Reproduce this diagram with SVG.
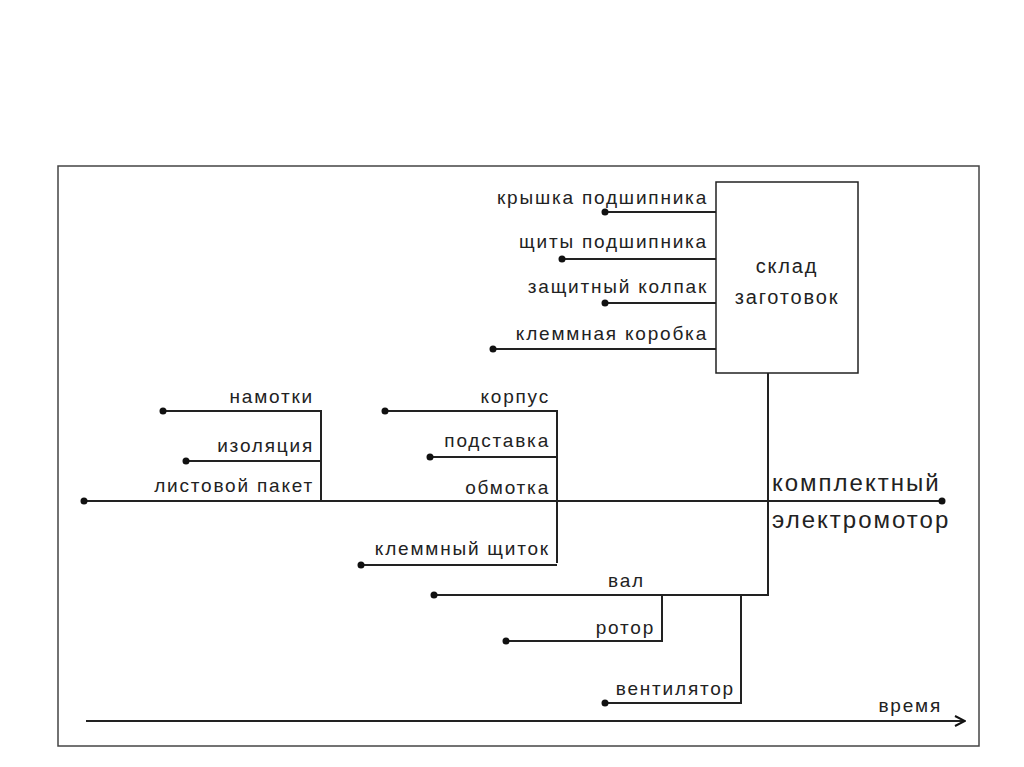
<svg xmlns="http://www.w3.org/2000/svg" width="1024" height="767" viewBox="0 0 1024 767">
<defs>
<marker id="dot" viewBox="-4 -4 8 8" markerWidth="8" markerHeight="8" markerUnits="userSpaceOnUse"><circle r="3.5" fill="#111"/></marker>
<marker id="arr" viewBox="0 0 12 12" refX="11" refY="6" markerWidth="12" markerHeight="12" markerUnits="userSpaceOnUse" orient="auto"><path d="M1,1 L11,6 L1,11" fill="none" stroke="#111" stroke-width="2"/></marker>
<style>
.l{stroke:#222;stroke-width:2;fill:none}
.t{font-family:"Liberation Sans",Arial,sans-serif;font-size:19px;letter-spacing:1.8px;fill:#222;text-anchor:end}
.b{font-family:"Liberation Sans",Arial,sans-serif;font-size:24px;letter-spacing:2px;fill:#222}
</style>
</defs>
<rect width="1024" height="767" fill="#fff"/>
<rect x="58" y="166" width="921" height="580" fill="none" stroke="#444" stroke-width="1.5"/>
<g id="sklad">
<rect x="716" y="182" width="142" height="191" fill="#fff" stroke="#222" stroke-width="1.5"/>
<text x="787" y="273" class="t" style="text-anchor:middle;font-size:20px">склад</text>
<text x="787" y="304" class="t" style="text-anchor:middle;font-size:20px">заготовок</text>
</g>
<g id="connectors">
<path class="l" marker-start="url(#dot)" d="M605,212H716"/>
<path class="l" marker-start="url(#dot)" d="M562,259H716"/>
<path class="l" marker-start="url(#dot)" d="M605,303H716"/>
<path class="l" marker-start="url(#dot)" d="M493,349H716"/>
<path class="l" marker-start="url(#dot)" d="M163,411H321V501"/>
<path class="l" marker-start="url(#dot)" d="M186,461H321"/>
<path class="l" marker-start="url(#dot)" marker-end="url(#dot)" d="M84,501H942"/>
<path class="l" marker-start="url(#dot)" d="M385,411H557V563"/>
<path class="l" marker-start="url(#dot)" d="M430,457H557"/>
<path class="l" marker-start="url(#dot)" d="M361,565H557"/>
<path class="l" marker-start="url(#dot)" d="M434,595H768V373"/>
<path class="l" marker-start="url(#dot)" d="M506,641H662V595"/>
<path class="l" marker-start="url(#dot)" d="M605,703H741V595"/>
<path class="l" stroke-width="2.5" marker-end="url(#arr)" d="M86,721H965"/>
</g>
<g id="labels">
<text x="708" y="204" class="t">крышка подшипника</text>
<text x="708" y="248" class="t">щиты подшипника</text>
<text x="708" y="293" class="t">защитный колпак</text>
<text x="708" y="340" class="t">клеммная коробка</text>
<text x="314" y="403" class="t">намотки</text>
<text x="314" y="452" class="t">изоляция</text>
<text x="314" y="492" class="t">листовой пакет</text>
<text x="550" y="403" class="t">корпус</text>
<text x="550" y="447" class="t">подставка</text>
<text x="550" y="494" class="t">обмотка</text>
<text x="550" y="555" class="t">клеммный щиток</text>
<text x="645" y="587" class="t">вал</text>
<text x="655" y="634" class="t">ротор</text>
<text x="735" y="695" class="t">вентилятор</text>
<text x="942" y="712" class="t">время</text>
<text x="772" y="491" class="b">комплектный</text>
<text x="772" y="528" class="b">электромотор</text>
</g>
</svg>
